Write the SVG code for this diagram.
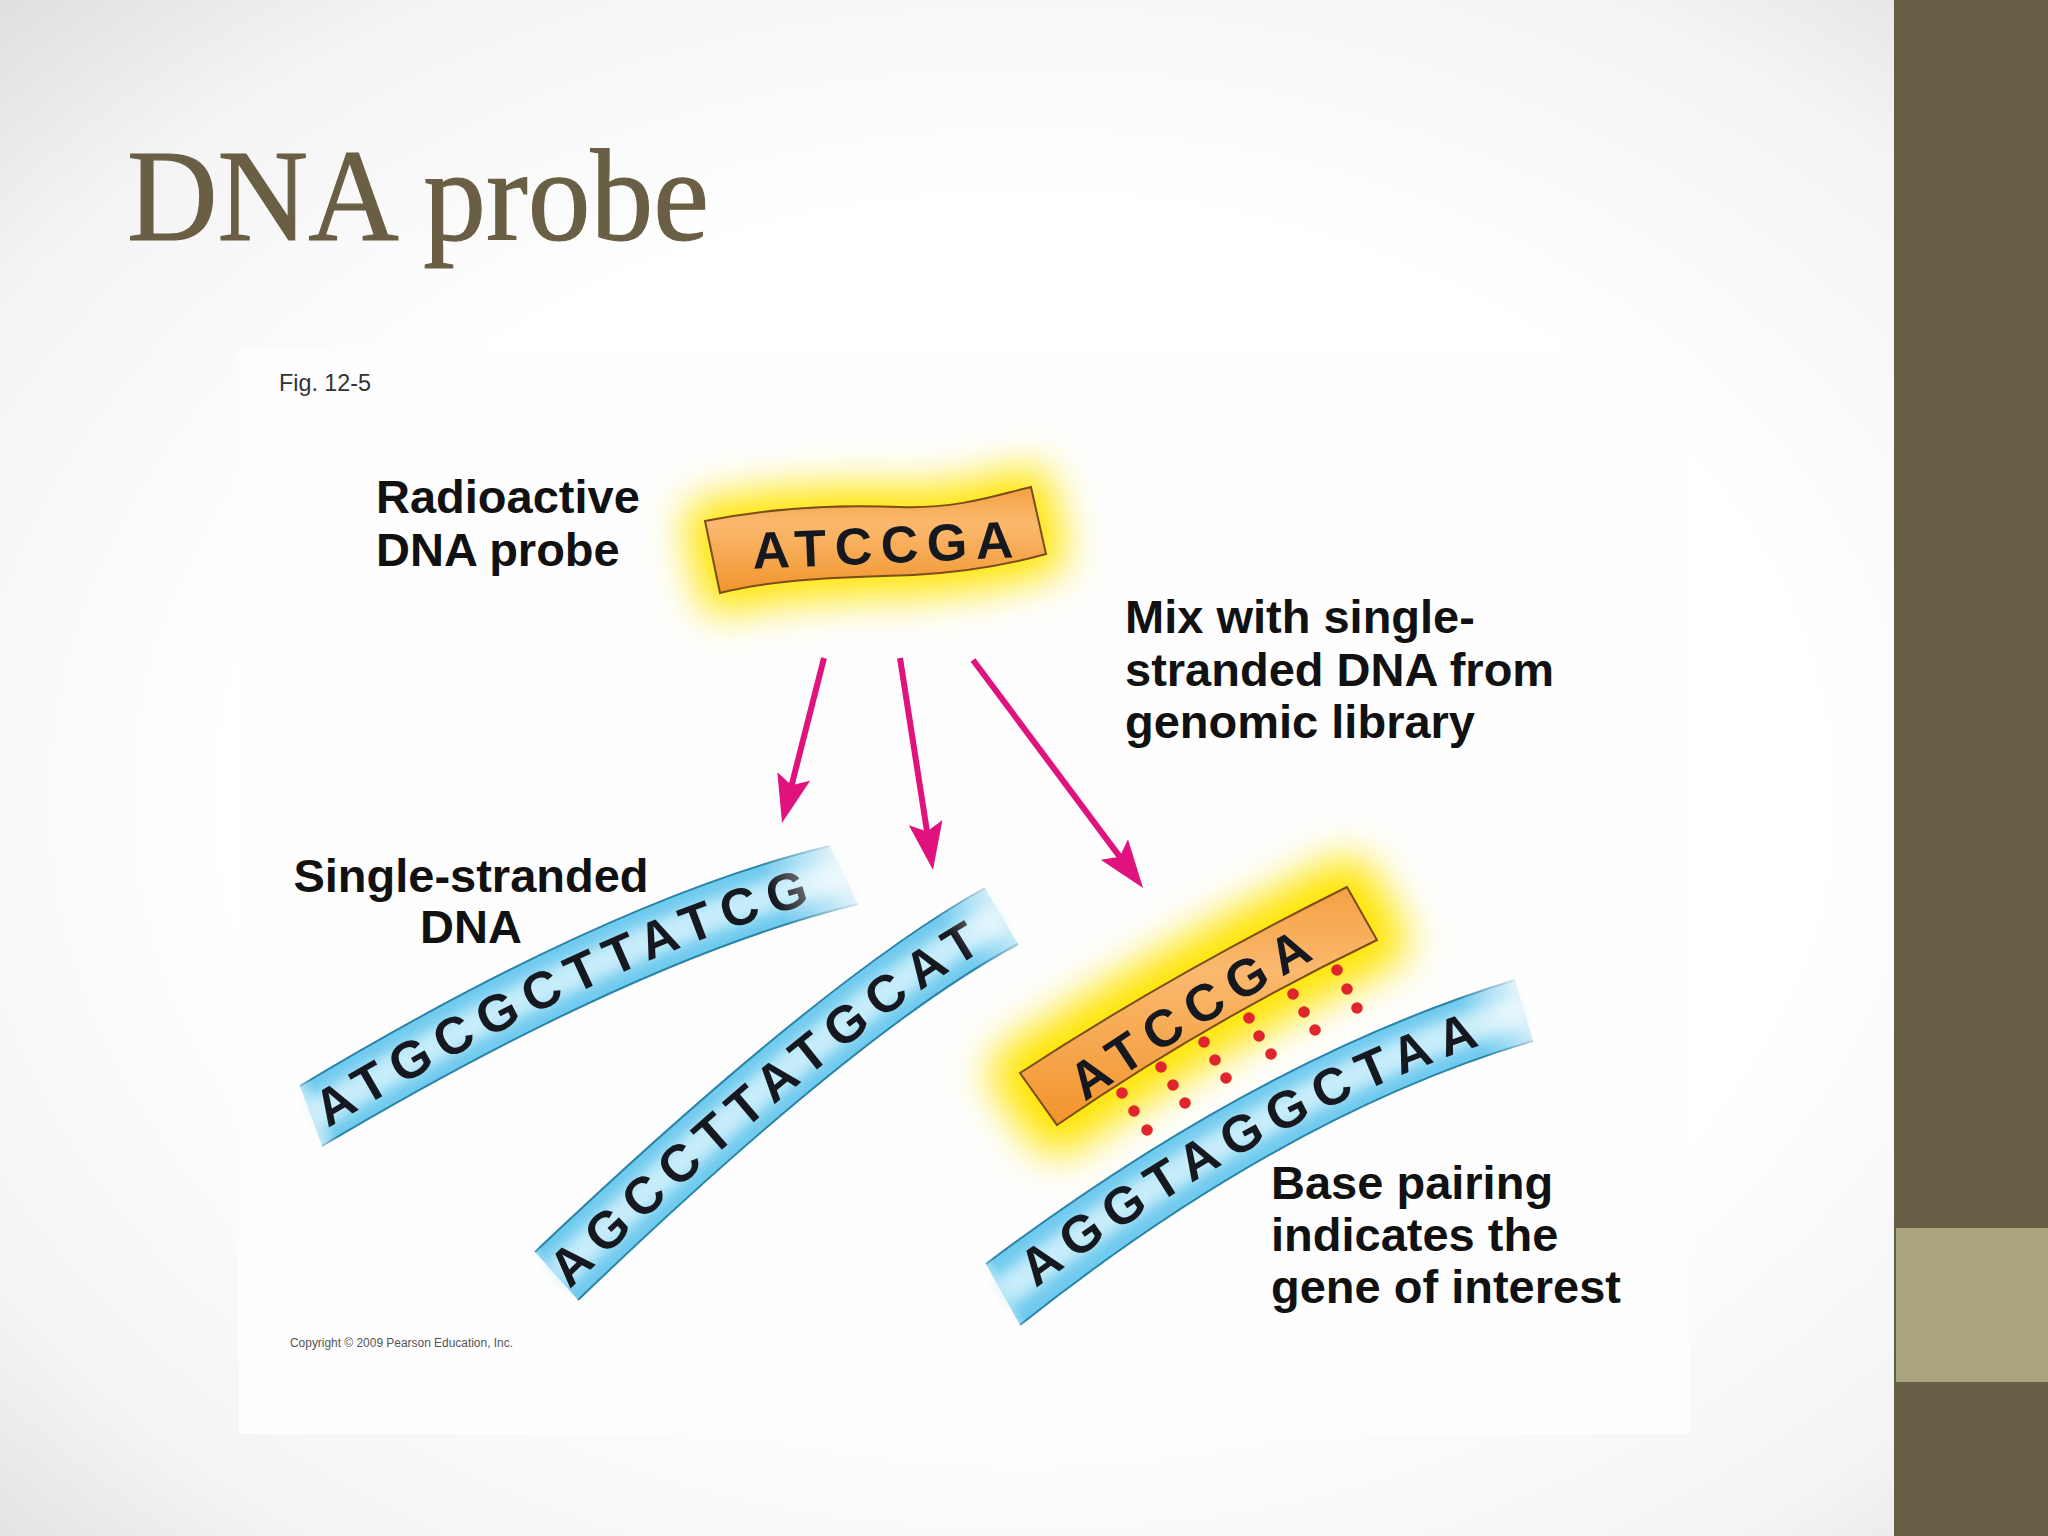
<svg xmlns="http://www.w3.org/2000/svg" width="2048" height="1536" viewBox="0 0 2048 1536">
<defs>
<style>
.lbl{font-family:"Liberation Sans",Arial,sans-serif;font-weight:bold;font-size:47px;fill:#111}
.base{font-family:"Liberation Sans",Arial,sans-serif;font-weight:bold;font-size:52px;fill:#161820}
.edge{fill:none;stroke:#2a84a8;stroke-width:2}
.dot{fill:#E1252C}
.arrow{stroke:#E0137E;stroke-width:6;fill:none;marker-end:url(#ah)}
.probe{stroke:#7a4d1a;stroke-width:2;fill:url(#orange)}
</style>
<radialGradient id="bg" cx="50%" cy="52%" r="74%">
<stop offset="0.52" stop-color="#ffffff"/>
<stop offset="0.8" stop-color="#f4f4f4"/>
<stop offset="1" stop-color="#dcdcdc"/>
</radialGradient>
<linearGradient id="orange" x1="0" y1="0" x2="0" y2="1">
<stop offset="0" stop-color="#F5A043"/>
<stop offset="0.35" stop-color="#FAB96E"/>
<stop offset="1" stop-color="#F2942D"/>
</linearGradient>
<filter id="glow" x="-40%" y="-80%" width="180%" height="260%"><feGaussianBlur stdDeviation="20"/></filter>
<filter id="soft" x="-20%" y="-50%" width="140%" height="200%"><feGaussianBlur stdDeviation="7"/></filter>
<marker id="ah" markerUnits="userSpaceOnUse" markerWidth="50" markerHeight="36" refX="18" refY="17" orient="auto"><path d="M0,0 L48,17 L0,34 L9,17 Z" fill="#E0137E"/></marker>
<linearGradient id="f1" gradientUnits="userSpaceOnUse" x1="296" y1="1120" x2="862" y2="868"><stop offset="0" stop-color="#000"/><stop offset="0.05" stop-color="#fff"/><stop offset="0.85" stop-color="#fff"/><stop offset="1" stop-color="#000"/></linearGradient>
<linearGradient id="f2" gradientUnits="userSpaceOnUse" x1="530" y1="1285" x2="1030" y2="905"><stop offset="0" stop-color="#000"/><stop offset="0.05" stop-color="#fff"/><stop offset="0.87" stop-color="#fff"/><stop offset="1" stop-color="#000"/></linearGradient>
<linearGradient id="f3" gradientUnits="userSpaceOnUse" x1="980" y1="1300" x2="1545" y2="1005"><stop offset="0" stop-color="#000"/><stop offset="0.05" stop-color="#fff"/><stop offset="0.88" stop-color="#fff"/><stop offset="1" stop-color="#000"/></linearGradient>
<mask id="m1"><rect x="0" y="0" width="2048" height="1536" fill="url(#f1)"/></mask>
<mask id="m2"><rect x="0" y="0" width="2048" height="1536" fill="url(#f2)"/></mask>
<mask id="m3"><rect x="0" y="0" width="2048" height="1536" fill="url(#f3)"/></mask>
<path id="t1" d="M325,1130 Q631,945 848,894"/>
<path id="t2" d="M568,1291 Q853,1019 1012,934"/>
<path id="t3" d="M1015,1304 Q1281,1102 1529,1030"/>
<path id="tp2" d="M1062,1118 Q1204,1017 1372,927"/>
<path id="tp1" d="M748,569 L1025,557"/>
</defs>

<rect width="2048" height="1536" fill="url(#bg)"/>
<rect x="239" y="350" width="1450" height="1084" fill="#fefefe"/>

<g id="sidebar">
<rect x="1894" y="0" width="154" height="1536" fill="#695E46"/>
<rect x="1894" y="1228" width="154" height="154" fill="#ABA57F"/>
<rect x="1894" y="0" width="2" height="1536" fill="#5E6148"/>
</g>

<g id="title"><text x="127" y="240" font-family="'Liberation Serif','Times New Roman',serif" font-size="132" fill="#6A5F45" stroke="#6A5F45" stroke-width="1.2" textLength="582" lengthAdjust="spacingAndGlyphs">DNA probe</text></g>

<g id="fig-label"><text x="279" y="391" font-family="'Liberation Sans',Arial,sans-serif" font-size="24" fill="#333" textLength="92" lengthAdjust="spacingAndGlyphs">Fig. 12-5</text></g>

<g id="label-radioactive"><text class="lbl" x="376" y="513">Radioactive</text><text class="lbl" x="376" y="566">DNA probe</text></g>

<g id="probe-top">
<path d="M705,521 C760,510 830,504 900,507 C960,509 1000,494 1031,487 L1046,554 C1010,564 970,572 913,575 C850,577 780,578 720,593 Z" fill="#FFE400" stroke="#FFE400" stroke-width="40" stroke-linejoin="round" filter="url(#glow)"/>
<path class="probe" d="M705,521 C760,510 830,504 900,507 C960,509 1000,494 1031,487 L1046,554 C1010,564 970,572 913,575 C850,577 780,578 720,593 Z"/>
<text class="base"><textPath href="#tp1" startOffset="5" letter-spacing="8.5">ATCCGA</textPath></text>
</g>

<g id="label-mix"><text class="lbl" x="1125" y="633">Mix with single-</text><text class="lbl" x="1125" y="686">stranded DNA from</text><text class="lbl" x="1125" y="738">genomic library</text></g>

<g id="label-single"><text class="lbl" x="471" y="892" text-anchor="middle">Single-stranded</text><text class="lbl" x="471" y="943" text-anchor="middle">DNA</text></g>

<g id="strand-1" mask="url(#m1)">
<path d="M300,1086 Q613,898 830,846 L858,904 Q640,957 322,1146 Z" fill="#6FCAEE"/>
<path d="M312,1116 Q626,927 845,875" fill="none" stroke="#C8EDFA" stroke-width="32" filter="url(#soft)"/>
<path class="edge" d="M300,1086 Q613,898 830,846"/>
<path class="edge" d="M322,1146 Q640,957 858,904"/>
<text class="base"><textPath href="#t1" startOffset="3" letter-spacing="10">ATGCGCTTATCG</textPath></text>
</g>

<g id="strand-2" mask="url(#m2)">
<path d="M535,1252 Q825,977 985,888 L1018,944 Q861,1028 578,1300 Z" fill="#6FCAEE"/>
<path d="M556,1276 Q843,1002 1002,916" fill="none" stroke="#C8EDFA" stroke-width="32" filter="url(#soft)"/>
<path class="edge" d="M535,1252 Q825,977 985,888"/>
<path class="edge" d="M578,1300 Q861,1028 1018,944"/>
<text class="base"><textPath href="#t2" startOffset="2" letter-spacing="10.4">AGCCTTATGCAT</textPath></text>
</g>

<g id="hybrid">
<path d="M1020,1073 Q1170,975 1347,887 L1377,940 Q1210,1020 1057,1125 Z" fill="#FFE400" stroke="#FFE400" stroke-width="60" stroke-linejoin="round" filter="url(#glow)"/>
<g id="strand-3" mask="url(#m3)">
<path d="M986,1264 Q1260,1058 1515,980 L1533,1041 Q1287,1113 1020,1325 Z" fill="#6FCAEE"/>
<path d="M1002,1294 Q1273,1085 1524,1010" fill="none" stroke="#C8EDFA" stroke-width="32" filter="url(#soft)"/>
<path class="edge" d="M986,1264 Q1260,1058 1515,980"/>
<path class="edge" d="M1020,1325 Q1287,1113 1533,1041"/>
<text class="base"><textPath href="#t3" startOffset="26" letter-spacing="10.3">AGGTAGGCTAA</textPath></text>
</g>
<g id="probe-bound">
<path class="probe" d="M1020,1073 Q1170,975 1347,887 L1377,940 Q1210,1020 1057,1125 Z"/>
<text class="base"><textPath href="#tp2" startOffset="28" letter-spacing="10.5">ATCCGA</textPath></text>
</g>
<g id="base-pairs">
<circle class="dot" cx="1122" cy="1093" r="5.8"/><circle class="dot" cx="1134" cy="1111" r="5.8"/><circle class="dot" cx="1147" cy="1130" r="5.8"/>
<circle class="dot" cx="1161" cy="1067" r="5.8"/><circle class="dot" cx="1173" cy="1085" r="5.8"/><circle class="dot" cx="1185" cy="1103" r="5.8"/>
<circle class="dot" cx="1204" cy="1042" r="5.8"/><circle class="dot" cx="1215" cy="1060" r="5.8"/><circle class="dot" cx="1226" cy="1078" r="5.8"/>
<circle class="dot" cx="1249" cy="1018" r="5.8"/><circle class="dot" cx="1259" cy="1036" r="5.8"/><circle class="dot" cx="1271" cy="1054" r="5.8"/>
<circle class="dot" cx="1293" cy="994" r="5.8"/><circle class="dot" cx="1304" cy="1012" r="5.8"/><circle class="dot" cx="1315" cy="1030" r="5.8"/>
<circle class="dot" cx="1337" cy="970" r="5.8"/><circle class="dot" cx="1347" cy="989" r="5.8"/><circle class="dot" cx="1357" cy="1008" r="5.8"/>
</g>
</g>

<g id="label-base-pairing"><text class="lbl" x="1271" y="1199">Base pairing</text><text class="lbl" x="1271" y="1251">indicates the</text><text class="lbl" x="1271" y="1303">gene of interest</text></g>

<g id="copyright"><text x="290" y="1347" font-family="'Liberation Sans',Arial,sans-serif" font-size="12" fill="#555" textLength="223" lengthAdjust="spacingAndGlyphs">Copyright © 2009 Pearson Education, Inc.</text></g>

<g id="connectors">
<line class="arrow" x1="824" y1="658" x2="789.4" y2="793.9"/>
<line class="arrow" x1="900" y1="658" x2="928.4" y2="840.4"/>
<line class="arrow" x1="973" y1="660" x2="1125.1" y2="863.9"/>
</g>
</svg>
